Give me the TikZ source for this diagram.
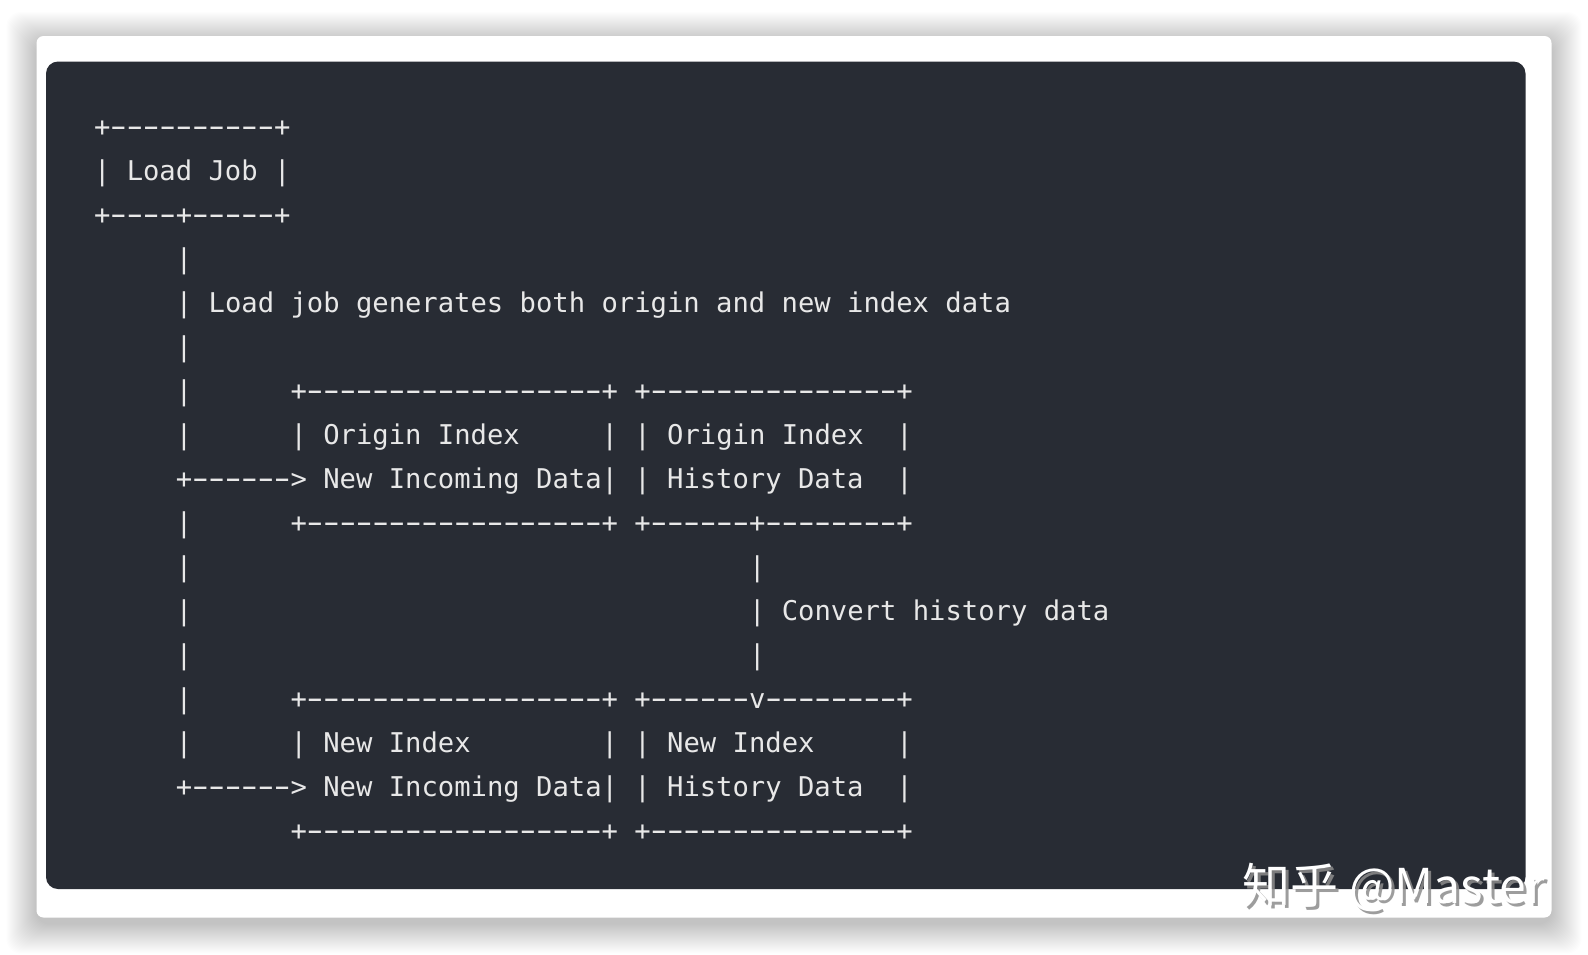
\documentclass[tikz,border=0pt]{standalone}
\usepackage{fontspec}
\usepackage{graphicx}
\setmonofont{DejaVu Sans Mono}
\newfontfamily\wmfont{Noto Sans CJK SC}
\definecolor{codebg}{HTML}{282C34}
\definecolor{codefg}{HTML}{E8E8E8}
\definecolor{wmshade}{HTML}{8C8C8C}
\newcommand\hy{\makebox[\fontcharwd\font`\-][c]{\scalebox{1.75}[1.1]{-}}}
\ExplSyntaxOn
\cs_new:Npn \hys #1 { \prg_replicate:nn {#1} {\hy} }
\ExplSyntaxOff
\tikzset{
  codeline/.style={anchor=base west, inner sep=0pt, outer sep=0pt, text=codefg,
    font=\ttfamily\fontsize{13.6}{16}\selectfont},
  card/.style={fill=white, rounded corners=3.5pt},
  shadowring/.style={fill=black, opacity=0.0075, rounded corners=7pt},
  codeblock/.style={fill=codebg, rounded corners=6pt},
  watermark/.style={anchor=base west, inner sep=0pt, font=\wmfont\fontsize{24}{28}\selectfont}
}
\begin{document}
\begin{tikzpicture}[x=0.5pt,y=-0.5pt]
\useasboundingbox (0,0) rectangle (1588,954);
\fill[white] (0,0) rectangle (1588,954);
\foreach \i in {1,...,30}{
  \path[shadowring] (36.5-\i,42-\i) rectangle (1551.5+\i,923.5+\i);
}
\path[card] (36.5,36) rectangle (1551.5,917.5);
\path[codeblock] (46,61.5) rectangle (1525.5,889);
\node[codeline] (l0) at (94,136) {+\hys{10}+};
\node[codeline] (l1) at (94,180) {|~Load~Job~|};
\node[codeline] (l2) at (94,224) {+\hys{4}+\hys{5}+};
\node[codeline] (l3) at (94,268) {~~~~~|};
\node[codeline] (l4) at (94,312) {~~~~~|~Load~job~generates~both~origin~and~new~index~data};
\node[codeline] (l5) at (94,356) {~~~~~|};
\node[codeline] (l6) at (94,400) {~~~~~|~~~~~~+\hys{18}+~+\hys{15}+};
\node[codeline] (l7) at (94,444) {~~~~~|~~~~~~|~Origin~Index~~~~~|~|~Origin~Index~~|};
\node[codeline] (l8) at (94,488) {~~~~~+\hys{6}>~New~Incoming~Data|~|~History~Data~~|};
\node[codeline] (l9) at (94,532) {~~~~~|~~~~~~+\hys{18}+~+\hys{6}+\hys{8}+};
\node[codeline] (l10) at (94,576) {~~~~~|~~~~~~~~~~~~~~~~~~~~~~~~~~~~~~~~~~|};
\node[codeline] (l11) at (94,620) {~~~~~|~~~~~~~~~~~~~~~~~~~~~~~~~~~~~~~~~~|~Convert~history~data};
\node[codeline] (l12) at (94,664) {~~~~~|~~~~~~~~~~~~~~~~~~~~~~~~~~~~~~~~~~|};
\node[codeline] (l13) at (94,708) {~~~~~|~~~~~~+\hys{18}+~+\hys{6}v\hys{8}+};
\node[codeline] (l14) at (94,752) {~~~~~|~~~~~~|~New~Index~~~~~~~~|~|~New~Index~~~~~|};
\node[codeline] (l15) at (94,796) {~~~~~+\hys{6}>~New~Incoming~Data|~|~History~Data~~|};
\node[codeline] (l16) at (94,840) {~~~~~~~~~~~~+\hys{18}+~+\hys{15}+};
\node[watermark, text=wmshade, opacity=0.85] (wmshadow) at (1245,906.5) {知乎~@Master};
\node[watermark, text=white] (wm) at (1242,903.5) {知乎~@Master};
\end{tikzpicture}
\end{document}
